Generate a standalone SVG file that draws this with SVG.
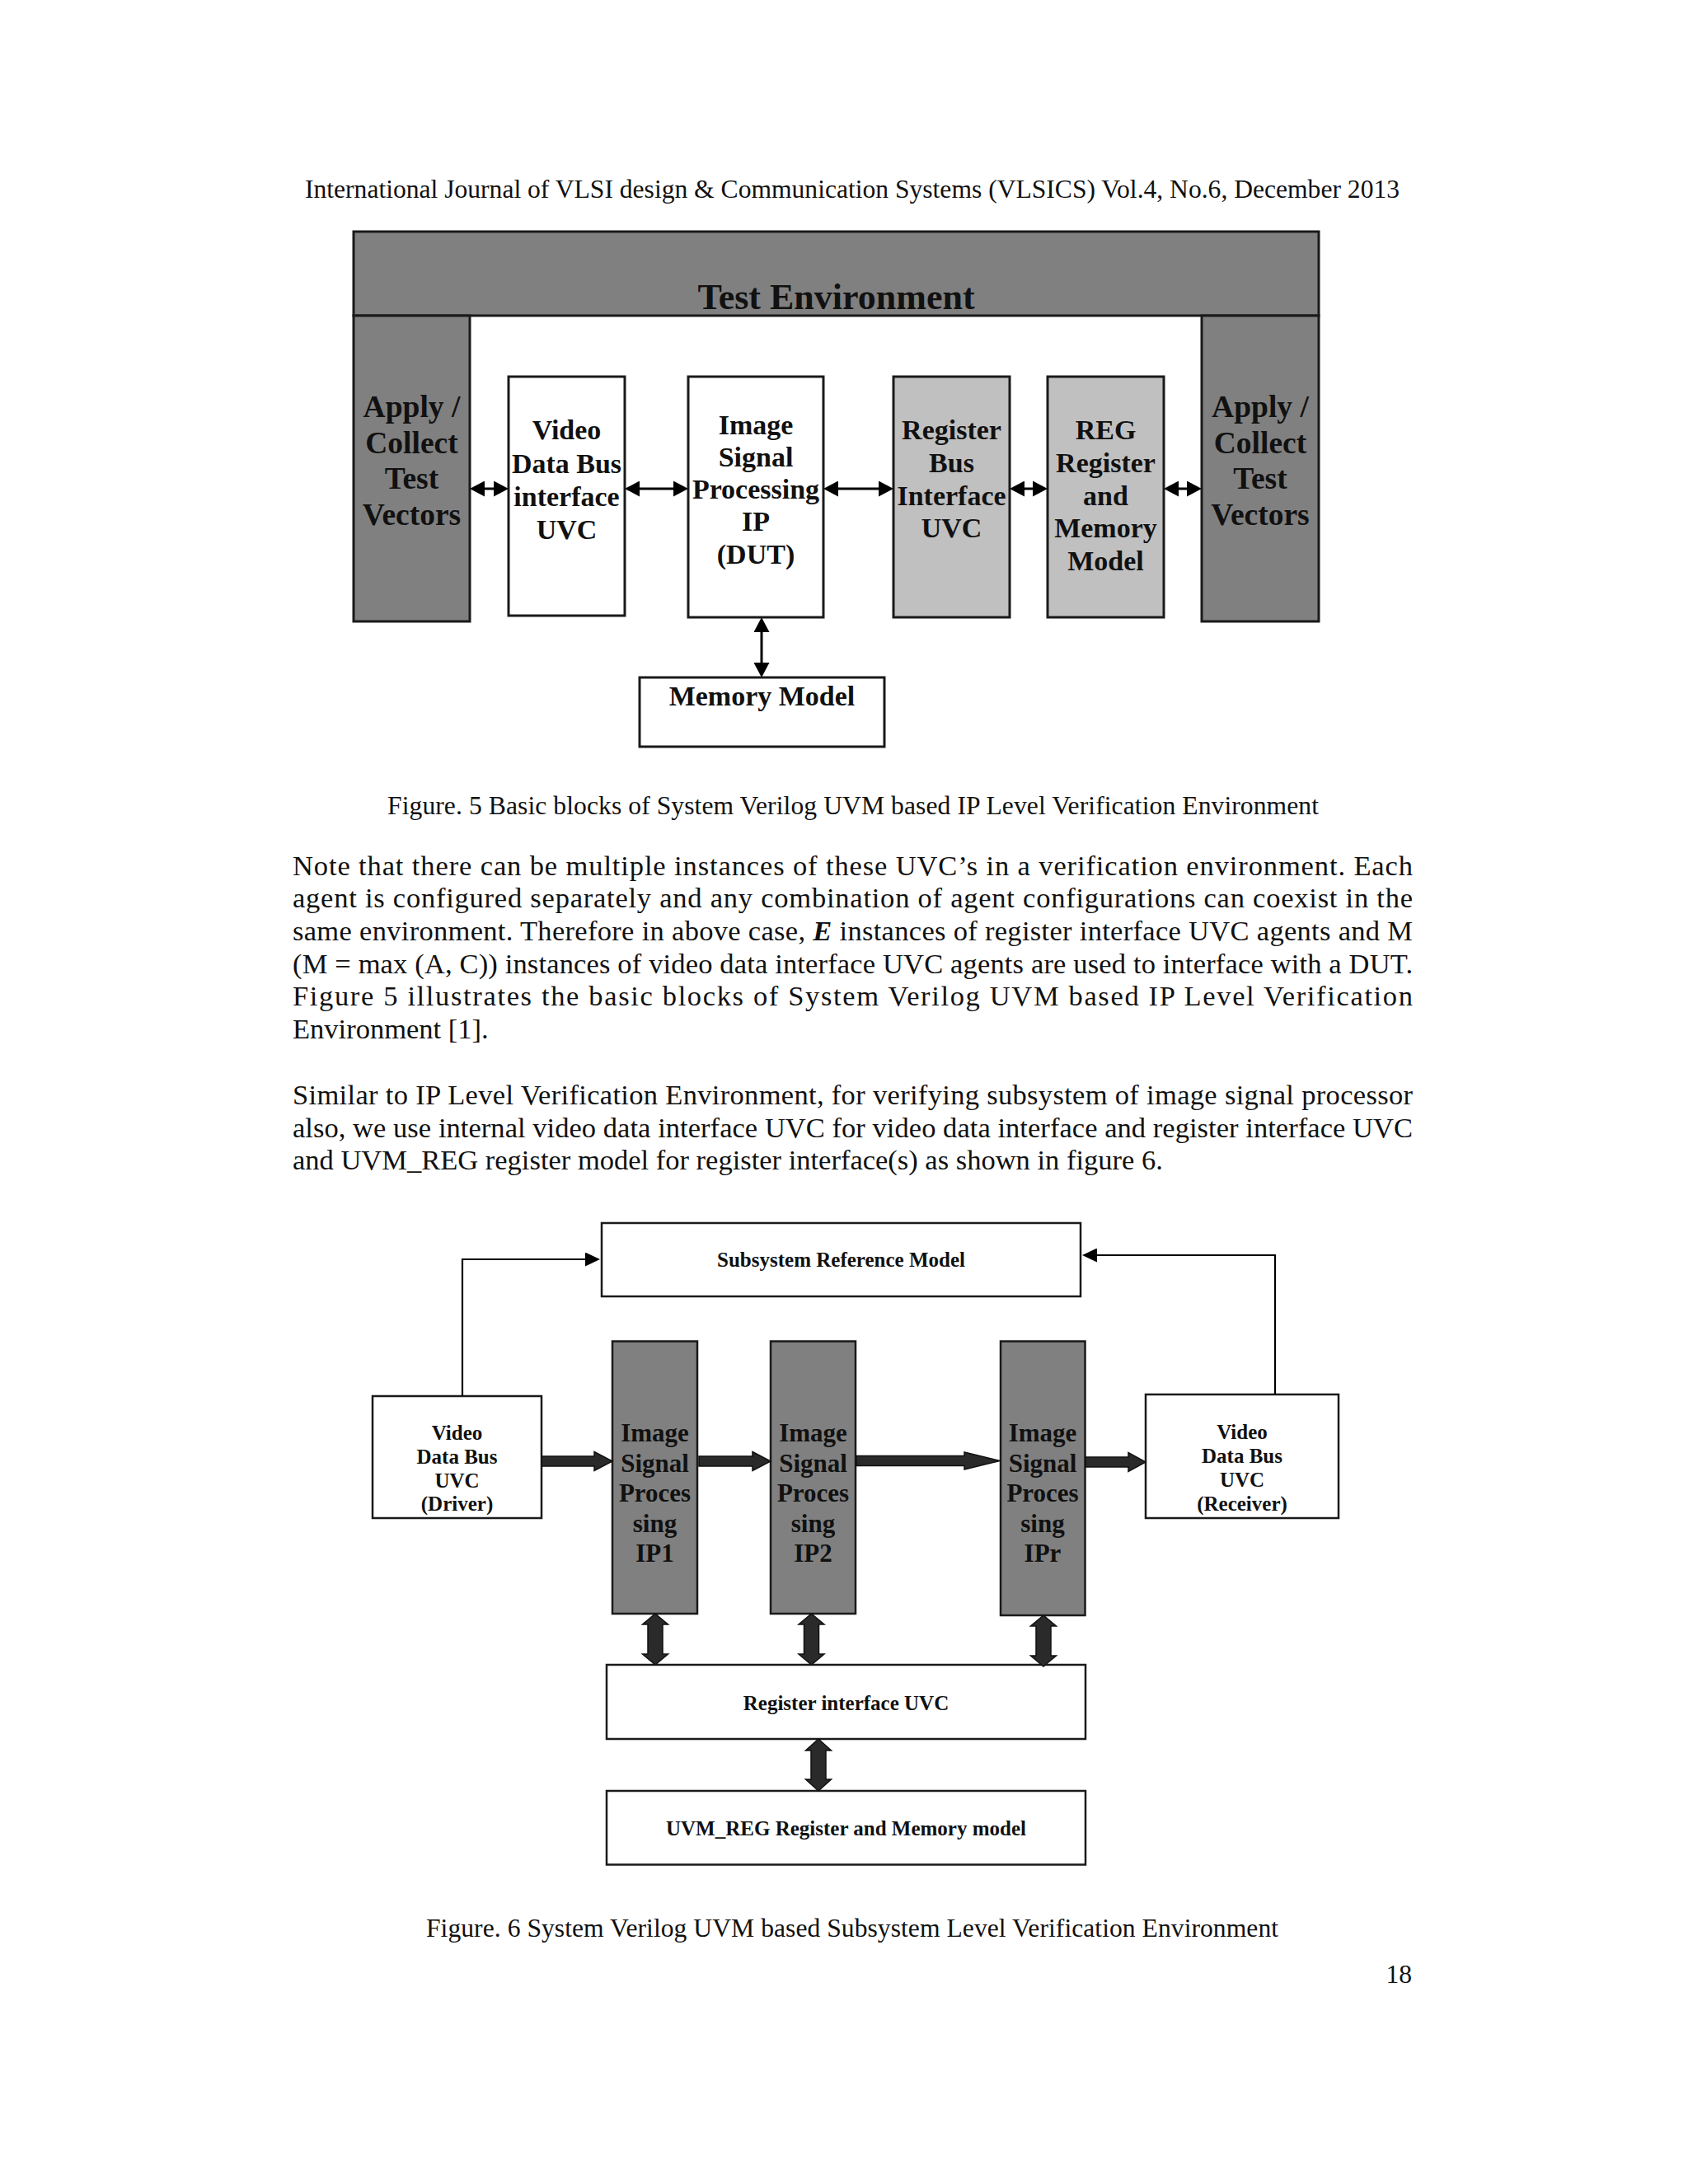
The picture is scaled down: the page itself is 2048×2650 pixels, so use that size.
<svg xmlns="http://www.w3.org/2000/svg" width="2048" height="2650" viewBox="0 0 2048 2650">
<style>
text{font-family:"Liberation Serif","Times New Roman",serif;fill:#111}
.b{font-weight:bold}
.c{text-anchor:middle}
.body{font-size:34.5px}
.cap{font-size:31.6px}
.f5{font-size:34px;font-weight:bold;text-anchor:middle}
.f5l{font-size:37.5px;font-weight:bold;text-anchor:middle}
.f6{font-size:25px;font-weight:bold;text-anchor:middle}
.f6i{font-size:31px;font-weight:bold;text-anchor:middle}
.dark{fill:#808080;stroke:#1a1a1a;stroke-width:3}
.light{fill:#c0c0c0;stroke:#1a1a1a;stroke-width:3}
.white{fill:#fff;stroke:#1a1a1a;stroke-width:3}
.white6{fill:#fff;stroke:#1a1a1a;stroke-width:2.5}
.dark6{fill:#808080;stroke:#1a1a1a;stroke-width:2.5}
.thin{fill:none;stroke:#000;stroke-width:3}
.conn{fill:none;stroke:#000;stroke-width:2.2}
.thick{fill:#2a2a2a;stroke:#111;stroke-width:1.5}
</style>
<defs>
<marker id="ah" markerUnits="userSpaceOnUse" markerWidth="18" markerHeight="19" refX="10" refY="9.5" orient="auto-start-reverse">
<path d="M0,0 L18,9.5 L0,19 z" fill="#000"/>
</marker>
<marker id="ah6" markerUnits="userSpaceOnUse" markerWidth="18" markerHeight="17" refX="10" refY="8.5" orient="auto-start-reverse">
<path d="M0,0 L18,8.5 L0,17 z" fill="#000"/>
</marker>
</defs>
<rect width="2048" height="2650" fill="#fff"/>

<g id="page-text">
<text class="cap" x="370" y="240" textLength="1328" lengthAdjust="spacing">International Journal of VLSI design &amp; Communication Systems (VLSICS) Vol.4, No.6, December 2013</text>
<text class="cap" x="470" y="988" textLength="1130" lengthAdjust="spacing">Figure. 5 Basic blocks of System Verilog UVM based IP Level Verification Environment</text>
<text class="body" x="355" y="1062" textLength="1359" lengthAdjust="spacing">Note that there can be multiple instances of these UVC’s in a verification environment. Each</text>
<text class="body" x="355" y="1101" textLength="1359" lengthAdjust="spacing">agent is configured separately and any combination of agent configurations can coexist in the</text>
<text class="body" x="355" y="1141" textLength="1359" lengthAdjust="spacing">same environment. Therefore in above case, <tspan font-weight="bold" font-style="italic">E</tspan> instances of register interface UVC agents and M</text>
<text class="body" x="355" y="1181" textLength="1359" lengthAdjust="spacing">(M = max (A, C)) instances of video data interface UVC agents are used to interface with a DUT.</text>
<text class="body" x="355" y="1220" textLength="1359" lengthAdjust="spacing">Figure 5 illustrates the basic blocks of System Verilog UVM based IP Level Verification</text>
<text class="body" x="355" y="1260">Environment [1].</text>
<text class="body" x="355" y="1340" textLength="1359" lengthAdjust="spacing">Similar to IP Level Verification Environment, for verifying subsystem of image signal processor</text>
<text class="body" x="355" y="1380" textLength="1359" lengthAdjust="spacing">also, we use internal video data interface UVC for video data interface and register interface UVC</text>
<text class="body" x="355" y="1419">and UVM_REG register model for register interface(s) as shown in figure 6.</text>
<text class="cap" x="517" y="2350" textLength="1034" lengthAdjust="spacing">Figure. 6 System Verilog UVM based Subsystem Level Verification Environment</text>
<text class="cap" x="1713" y="2406" text-anchor="end">18</text>
</g>

<!-- Figure 5 -->
<g id="test-environment">
<rect class="dark" x="429" y="281" width="1171" height="102"/>
<text class="b c" x="1014.5" y="375" font-size="44">Test Environment</text>
</g>
<g id="apply-left">
<rect class="dark" x="429" y="383" width="141" height="371"/>
<text class="f5l" x="499.5" y="506">Apply /</text>
<text class="f5l" x="499.5" y="550">Collect</text>
<text class="f5l" x="499.5" y="593">Test</text>
<text class="f5l" x="499.5" y="637">Vectors</text>
</g>
<g id="apply-right">
<rect class="dark" x="1458" y="383" width="142" height="371"/>
<text class="f5l" x="1529" y="506">Apply /</text>
<text class="f5l" x="1529" y="550">Collect</text>
<text class="f5l" x="1529" y="593">Test</text>
<text class="f5l" x="1529" y="637">Vectors</text>
</g>
<g id="video-uvc">
<rect class="white" x="617" y="457" width="141" height="290"/>
<text class="f5" x="687.5" y="533">Video</text>
<text class="f5" x="687.5" y="574">Data Bus</text>
<text class="f5" x="687.5" y="614">interface</text>
<text class="f5" x="687.5" y="654">UVC</text>
</g>
<g id="isp-dut">
<rect class="white" x="835" y="457" width="164" height="292"/>
<text class="f5" x="917" y="526.5">Image</text>
<text class="f5" x="917" y="566">Signal</text>
<text class="f5" x="917" y="605">Processing</text>
<text class="f5" x="917" y="644">IP</text>
<text class="f5" x="917" y="684">(DUT)</text>
</g>
<g id="register-bus-uvc">
<rect class="light" x="1084" y="457" width="141" height="292"/>
<text class="f5" x="1154.5" y="533">Register</text>
<text class="f5" x="1154.5" y="573">Bus</text>
<text class="f5" x="1154.5" y="613">Interface</text>
<text class="f5" x="1154.5" y="652">UVC</text>
</g>
<g id="reg-model">
<rect class="light" x="1271" y="457" width="141" height="292"/>
<text class="f5" x="1341.5" y="533">REG</text>
<text class="f5" x="1341.5" y="573">Register</text>
<text class="f5" x="1341.5" y="613">and</text>
<text class="f5" x="1341.5" y="652">Memory</text>
<text class="f5" x="1341.5" y="692">Model</text>
</g>
<g id="memory-model">
<rect class="white" x="776" y="822" width="297" height="84"/>
<text class="f5" x="924.5" y="856">Memory Model</text>
</g>

<g id="connectors-fig5">
<line class="thin" x1="578" y1="593" x2="609" y2="593" marker-start="url(#ah)" marker-end="url(#ah)"/>
<line class="thin" x1="766" y1="593" x2="827" y2="593" marker-start="url(#ah)" marker-end="url(#ah)"/>
<line class="thin" x1="1007" y1="593" x2="1076" y2="593" marker-start="url(#ah)" marker-end="url(#ah)"/>
<line class="thin" x1="1233" y1="593" x2="1263" y2="593" marker-start="url(#ah)" marker-end="url(#ah)"/>
<line class="thin" x1="1420" y1="593" x2="1450" y2="593" marker-start="url(#ah)" marker-end="url(#ah)"/>
<line class="thin" x1="924" y1="757" x2="924" y2="814" marker-start="url(#ah)" marker-end="url(#ah)"/>
</g>

<!-- Figure 6 -->
<g id="subsystem-reference-model">
<rect class="white6" x="730" y="1484" width="581" height="89"/>
<text class="f6" x="1020.5" y="1537">Subsystem Reference Model</text>
</g>
<g id="video-driver">
<rect class="white6" x="452" y="1694" width="205" height="148"/>
<text class="f6" x="554.5" y="1747">Video</text>
<text class="f6" x="554.5" y="1776">Data Bus</text>
<text class="f6" x="554.5" y="1805">UVC</text>
<text class="f6" x="554.5" y="1833">(Driver)</text>
</g>
<g id="video-receiver">
<rect class="white6" x="1390" y="1692" width="234" height="150"/>
<text class="f6" x="1507" y="1746">Video</text>
<text class="f6" x="1507" y="1775">Data Bus</text>
<text class="f6" x="1507" y="1804">UVC</text>
<text class="f6" x="1507" y="1833">(Receiver)</text>
</g>
<g id="isp1">
<rect class="dark6" x="743" y="1627.5" width="103" height="330.5"/>
<text class="f6i" x="794.5" y="1749">Image</text>
<text class="f6i" x="794.5" y="1785.5">Signal</text>
<text class="f6i" x="794.5" y="1822">Proces</text>
<text class="f6i" x="794.5" y="1858.5">sing</text>
<text class="f6i" x="794.5" y="1895">IP1</text>
</g>
<g id="isp2">
<rect class="dark6" x="935" y="1627.5" width="103" height="330.5"/>
<text class="f6i" x="986.5" y="1749">Image</text>
<text class="f6i" x="986.5" y="1785.5">Signal</text>
<text class="f6i" x="986.5" y="1822">Proces</text>
<text class="f6i" x="986.5" y="1858.5">sing</text>
<text class="f6i" x="986.5" y="1895">IP2</text>
</g>
<g id="ispr">
<rect class="dark6" x="1214" y="1627.5" width="102.5" height="332.5"/>
<text class="f6i" x="1265" y="1749">Image</text>
<text class="f6i" x="1265" y="1785.5">Signal</text>
<text class="f6i" x="1265" y="1822">Proces</text>
<text class="f6i" x="1265" y="1858.5">sing</text>
<text class="f6i" x="1265" y="1895">IPr</text>
</g>
<g id="register-interface-uvc">
<rect class="white6" x="736" y="2020" width="581" height="90"/>
<text class="f6" x="1026.5" y="2075">Register interface UVC</text>
</g>
<g id="uvm-reg-model">
<rect class="white6" x="736" y="2173" width="581" height="89.5"/>
<text class="f6" x="1026.5" y="2227">UVM_REG Register and Memory model</text>
</g>

<g id="connectors-fig6">
<polyline class="conn" points="561,1694 561,1528 720,1528" marker-end="url(#ah6)"/>
<polyline class="conn" points="1547,1692 1547,1523 1321,1523" marker-end="url(#ah6)"/>
<path class="thick" d="M657,1767 L721,1767 L721,1761.5 L743,1773 L721,1784.5 L721,1779 L657,1779 Z"/>
<path class="thick" d="M848,1767 L913,1767 L913,1761.5 L935,1773 L913,1784.5 L913,1779 L848,1779 Z"/>
<path class="thick" d="M1039,1766.5 L1170,1766.5 L1170,1762 L1213,1772.5 L1170,1783 L1170,1778.5 L1039,1778.5 Z"/>
<path class="thick" d="M1317,1768 L1369,1768 L1369,1762.5 L1390,1774 L1369,1785.5 L1369,1780 L1317,1780 Z"/>
<path class="thick" d="M795,1958 L810.5,1971 L804,1971 L804,2007 L810.5,2007 L795,2020 L779.5,2007 L786,2007 L786,1971 L779.5,1971 Z"/>
<path class="thick" d="M984.5,1958 L1000,1971 L993.5,1971 L993.5,2007 L1000,2007 L984.5,2020 L969,2007 L975.5,2007 L975.5,1971 L969,1971 Z"/>
<path class="thick" d="M1266,1960 L1281.5,1973 L1275,1973 L1275,2009 L1281.5,2009 L1266,2022 L1250.5,2009 L1257,2009 L1257,1973 L1250.5,1973 Z"/>
<path class="thick" d="M993,2110 L1008.5,2124 L1002,2124 L1002,2159 L1008.5,2159 L993,2173 L977.5,2159 L984,2159 L984,2124 L977.5,2124 Z"/>
</g>
</svg>
